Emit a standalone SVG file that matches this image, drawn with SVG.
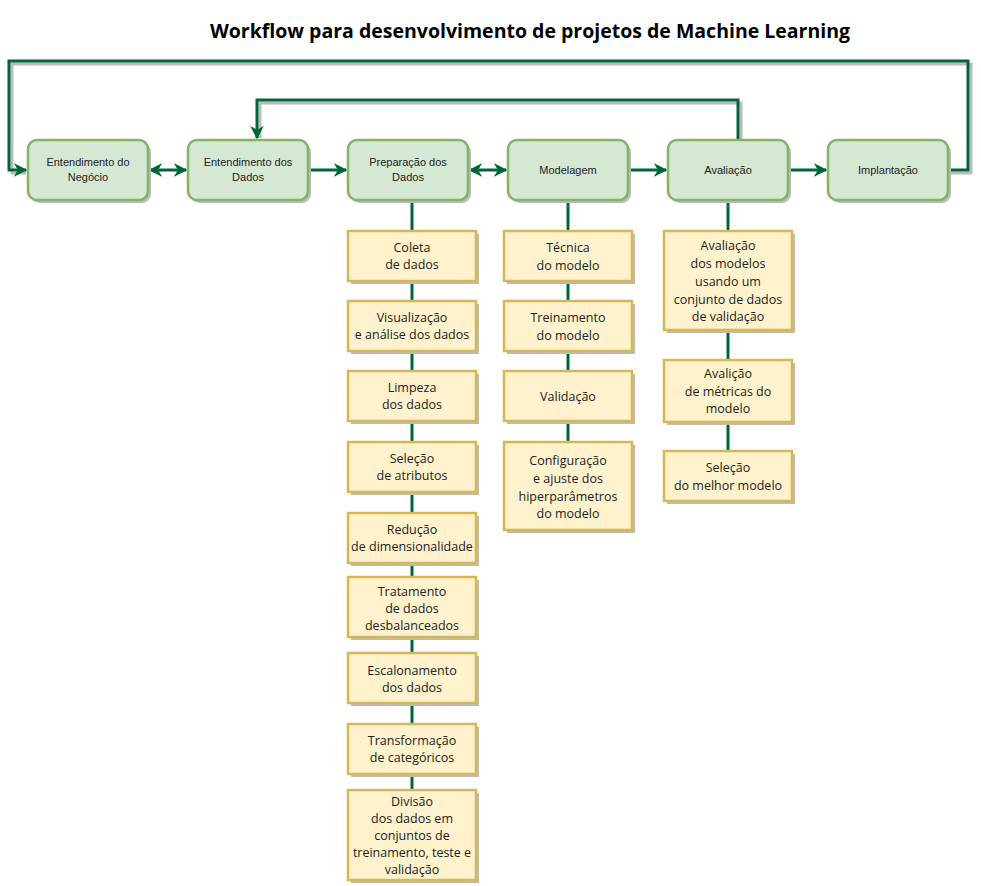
<svg xmlns="http://www.w3.org/2000/svg" width="981" height="886" viewBox="0 0 981 886">
<defs>
<marker id="ah" viewBox="0 0 10 10" refX="9" refY="5" markerWidth="4.5" markerHeight="4.5" orient="auto-start-reverse" markerUnits="strokeWidth"><path d="M0,0 L10,5 L0,10 L3,5 z" fill="#006633"/></marker>
</defs>
<style>
.g{fill:#d5e8d4;stroke:#82b366;stroke-width:2.5}
.y{fill:#fff2cc;stroke:#d6b656;stroke-width:2.5}
.sh{fill:#bbbbbb}
.c{fill:none;stroke:#006633;stroke-width:3}
.cs{fill:none;stroke:#bbbbbb;stroke-width:3}
.t{font-family:"Liberation Sans",Arial,sans-serif;font-size:11px;fill:#222;text-anchor:middle}
.ty{font-family:"Open Sans","Liberation Sans",sans-serif;font-size:12.5px;fill:#222;text-anchor:middle}
</style>
<rect width="981" height="886" fill="#fff"/>
<text x="530" y="38" font-family="Open Sans, Liberation Sans, sans-serif" font-weight="bold" font-size="19.5" text-anchor="middle" fill="#000">Workflow para desenvolvimento de projetos de Machine Learning</text>
<g id="connectors">
<path class="cs" d="M950,173 H971 V64 H12 V173 H26"/>
<path class="cs" d="M741,142 V103 H260 V138"/>
<path class="c" d="M948,170 H968 V61 H9 V170 H26" marker-end="url(#ah)"/>
<path class="c" d="M738,140 V100 H257 V138" marker-end="url(#ah)"/>
<path class="c" d="M150,170 H186" marker-start="url(#ah)" marker-end="url(#ah)"/>
<path class="c" d="M308,170 H346" marker-end="url(#ah)"/>
<path class="c" d="M470,170 H506" marker-start="url(#ah)" marker-end="url(#ah)"/>
<path class="c" d="M628,170 H666" marker-end="url(#ah)"/>
<path class="c" d="M788,170 H826" marker-end="url(#ah)"/>
<path class="c" d="M412,200 V790"/>
<path class="c" d="M568,200 V442"/>
<path class="c" d="M728,200 V451"/>
</g>
<g id="n1"><rect class="sh" x="31" y="143" width="120" height="60" rx="9"/><rect class="g" x="28" y="140" width="120" height="60" rx="9"/><text class="t" x="88" y="166">Entendimento do</text><text class="t" x="88" y="181">Negócio</text></g>
<g id="n2"><rect class="sh" x="191" y="143" width="120" height="60" rx="9"/><rect class="g" x="188" y="140" width="120" height="60" rx="9"/><text class="t" x="248" y="166">Entendimento dos</text><text class="t" x="248" y="181">Dados</text></g>
<g id="n3"><rect class="sh" x="351" y="143" width="120" height="60" rx="9"/><rect class="g" x="348" y="140" width="120" height="60" rx="9"/><text class="t" x="408" y="166">Preparação dos</text><text class="t" x="408" y="181">Dados</text></g>
<g id="n4"><rect class="sh" x="511" y="143" width="120" height="60" rx="9"/><rect class="g" x="508" y="140" width="120" height="60" rx="9"/><text class="t" x="568" y="174">Modelagem</text></g>
<g id="n5"><rect class="sh" x="671" y="143" width="120" height="60" rx="9"/><rect class="g" x="668" y="140" width="120" height="60" rx="9"/><text class="t" x="728" y="174">Avaliação</text></g>
<g id="n6"><rect class="sh" x="831" y="143" width="120" height="60" rx="9"/><rect class="g" x="828" y="140" width="120" height="60" rx="9"/><text class="t" x="888" y="174">Implantação</text></g>

<g id="a1"><rect class="sh" x="351" y="234" width="128" height="50"/><rect class="y" x="348" y="231" width="128" height="50"/><text class="ty" x="412" y="252">Coleta</text><text class="ty" x="412" y="269">de dados</text></g>
<g id="a2"><rect class="sh" x="351" y="304" width="128" height="50"/><rect class="y" x="348" y="301" width="128" height="50"/><text class="ty" x="412" y="322">Visualização</text><text class="ty" x="412" y="339">e análise dos dados</text></g>
<g id="a3"><rect class="sh" x="351" y="374" width="128" height="50"/><rect class="y" x="348" y="371" width="128" height="50"/><text class="ty" x="412" y="392">Limpeza</text><text class="ty" x="412" y="409">dos dados</text></g>
<g id="a4"><rect class="sh" x="351" y="445" width="128" height="50"/><rect class="y" x="348" y="442" width="128" height="50"/><text class="ty" x="412" y="463">Seleção</text><text class="ty" x="412" y="480">de atributos</text></g>
<g id="a5"><rect class="sh" x="351" y="516" width="128" height="50"/><rect class="y" x="348" y="513" width="128" height="50"/><text class="ty" x="412" y="534">Redução</text><text class="ty" x="412" y="551">de dimensionalidade</text></g>
<g id="a6"><rect class="sh" x="351" y="580" width="128" height="60"/><rect class="y" x="348" y="577" width="128" height="60"/><text class="ty" x="412" y="596" font-size="13.5">Tratamento</text><text class="ty" x="412" y="613" font-size="13.5">de dados</text><text class="ty" x="412" y="630" font-size="13.5">desbalanceados</text></g>
<g id="a7"><rect class="sh" x="351" y="656" width="128" height="50"/><rect class="y" x="348" y="653" width="128" height="50"/><text class="ty" x="412" y="675">Escalonamento</text><text class="ty" x="412" y="692">dos dados</text></g>
<g id="a8"><rect class="sh" x="351" y="727" width="128" height="50"/><rect class="y" x="348" y="724" width="128" height="50"/><text class="ty" x="412" y="745">Transformação</text><text class="ty" x="412" y="762">de categóricos</text></g>
<g id="a9"><rect class="sh" x="351" y="793" width="128" height="90"/><rect class="y" x="348" y="790" width="128" height="90"/><text class="ty" x="412" y="806">Divisão</text><text class="ty" x="412" y="823">dos dados em</text><text class="ty" x="412" y="840">conjuntos de</text><text class="ty" x="412" y="857">treinamento, teste e</text><text class="ty" x="412" y="874">validação</text></g>

<g id="b1"><rect class="sh" x="507" y="234" width="128" height="50"/><rect class="y" x="504" y="231" width="128" height="50"/><text class="ty" x="568" y="252" font-size="13.5">Técnica</text><text class="ty" x="568" y="270" font-size="13.5">do modelo</text></g>
<g id="b2"><rect class="sh" x="507" y="304" width="128" height="50"/><rect class="y" x="504" y="301" width="128" height="50"/><text class="ty" x="568" y="322" font-size="13.5">Treinamento</text><text class="ty" x="568" y="340" font-size="13.5">do modelo</text></g>
<g id="b3"><rect class="sh" x="507" y="374" width="128" height="50"/><rect class="y" x="504" y="371" width="128" height="50"/><text class="ty" x="568" y="401" font-size="13.5">Validação</text></g>
<g id="b4"><rect class="sh" x="507" y="445" width="128" height="88"/><rect class="y" x="504" y="442" width="128" height="88"/><text class="ty" x="568" y="465" font-size="13.5">Configuração</text><text class="ty" x="568" y="483" font-size="13.5">e ajuste dos</text><text class="ty" x="568" y="501" font-size="13.5">hiperparâmetros</text><text class="ty" x="568" y="518" font-size="13.5">do modelo</text></g>

<g id="c1"><rect class="sh" x="667" y="234" width="128" height="99"/><rect class="y" x="664" y="231" width="128" height="99"/><text class="ty" x="728" y="250" font-size="13.5">Avaliação</text><text class="ty" x="728" y="268" font-size="13.5">dos modelos</text><text class="ty" x="728" y="286" font-size="13.5">usando um</text><text class="ty" x="728" y="304" font-size="13.5">conjunto de dados</text><text class="ty" x="728" y="321" font-size="13.5">de validação</text></g>
<g id="c2"><rect class="sh" x="667" y="363" width="128" height="62"/><rect class="y" x="664" y="360" width="128" height="62"/><text class="ty" x="728" y="378" font-size="13.5">Avalição</text><text class="ty" x="728" y="396" font-size="13.5">de métricas do</text><text class="ty" x="728" y="413" font-size="13.5">modelo</text></g>
<g id="c3"><rect class="sh" x="667" y="454" width="128" height="50"/><rect class="y" x="664" y="451" width="128" height="50"/><text class="ty" x="728" y="472" font-size="13.5">Seleção</text><text class="ty" x="728" y="490" font-size="13.5">do melhor modelo</text></g>
</svg>
